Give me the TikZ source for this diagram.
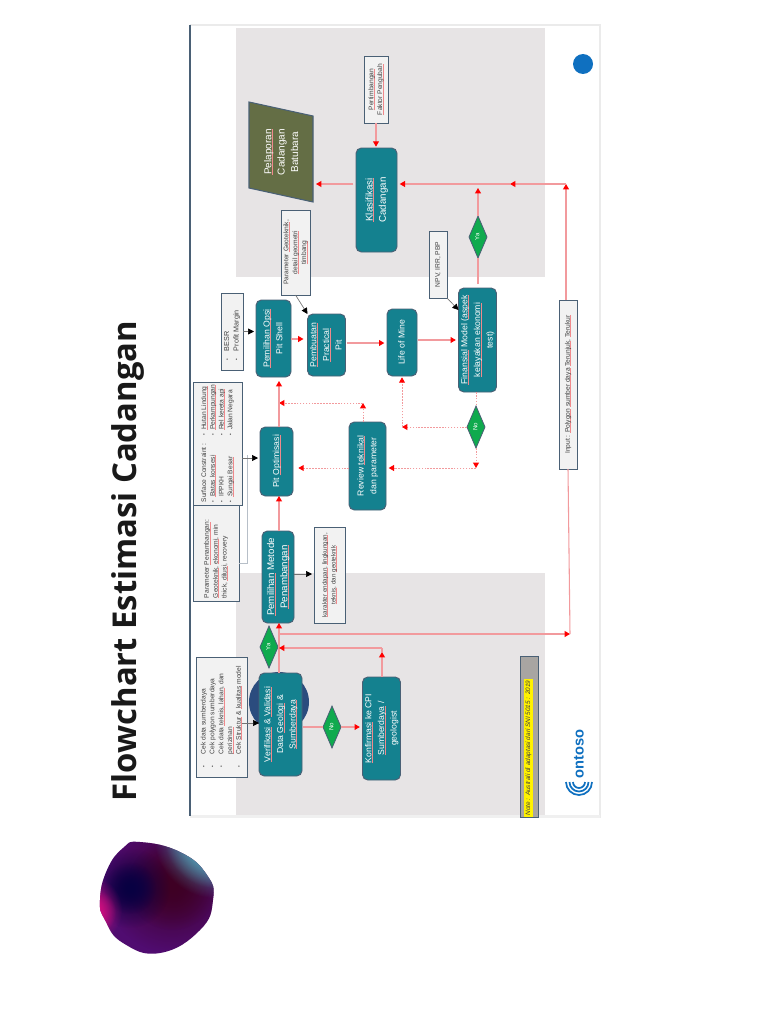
\documentclass[tikz,border=0pt]{standalone}
\usepackage{fontspec}
\usepackage{graphicx}
\setmainfont{Liberation Sans}
\newfontfamily\titlefont{Open Sans}
\usetikzlibrary{arrows.meta,shapes.geometric,calc,fadings}
\definecolor{panelc}{HTML}{E7E4E5}
\definecolor{tealc}{HTML}{14818F}
\definecolor{edgec}{HTML}{4A6075}
\definecolor{olivec}{HTML}{646E45}
\definecolor{greenc}{HTML}{0FAA4E}
\definecolor{notec}{HTML}{F2F2F2}
\definecolor{pinkline}{HTML}{F29A9D}
\definecolor{txtc}{HTML}{404040}
\definecolor{logoc}{HTML}{0F70C0}
\definecolor{squig}{HTML}{F0898C}
\definecolor{blobbase}{RGB}{80,12,112}
\definecolor{blobdark}{RGB}{62,0,36}
\definecolor{blobnavy}{RGB}{8,0,66}
\definecolor{blobpink}{RGB}{225,15,130}
\definecolor{blobcyan}{RGB}{85,205,215}
\newcommand\rt[1]{\rotatebox{90}{\begin{tabular}{@{}c@{}}#1\end{tabular}}}
\newcommand\rsq[1]{\setbox0\hbox{#1}\rlap{\textcolor{squig}{\rule[-0.7pt]{\wd0}{0.25pt}}}\box0\relax}
\newcommand\bul{\raisebox{.1ex}{\fontsize{3.6}{4}\selectfont\textbullet}}
\newcommand\bx[7]{\node[#1, minimum width={(#5-#3)*0.75pt}, minimum height={(#6-#4)*0.75pt}] (#2) at ({(#3+#5)/2},{(#4+#6)/2}) {#7};}
\tikzfading[name=softspot,inner color=transparent!0,outer color=transparent!100]
\tikzset{
 tealbox/.style={draw=edgec,fill=tealc,line width=.7pt,rounded corners=4pt,text=white,inner sep=0pt,outer sep=0pt,font=\fontsize{6.5}{9.5}\selectfont},
 tealbig/.style={tealbox,font=\fontsize{7.3}{10}\selectfont},
 notebox/.style={draw=edgec,fill=notec,line width=.7pt,inner sep=0pt,outer sep=0pt,text=txtc,font=\fontsize{5}{6.6}\selectfont},
 gate/.style={diamond,draw=edgec,fill=greenc,line width=.6pt,inner sep=0pt,outer sep=0pt,aspect=.43,minimum width=13.5pt,minimum height=31.5pt,text=white,font=\fontsize{4.6}{5}\selectfont},
 panel/.style={fill=panelc,draw=none},
 redtip/.style={-{Triangle[length=4pt,width=4.4pt,color=red,fill=red]}},
 redplain/.style={draw=pinkline,line width=.8pt},
 redarrow/.style={redplain,redtip},
 dashplain/.style={draw=pinkline,line width=.7pt,dash pattern=on 1.2pt off 1pt},
 dasharrow/.style={dashplain,redtip},
 blackarrow/.style={draw=black!55,line width=.5pt,-{Triangle[length=4.5pt,width=4.5pt,color=black,fill=black]}},
 thinline/.style={draw=edgec!40,line width=.6pt},
 spot/.style={path fading=softspot,draw=none},
}
\begin{document}
\begin{tikzpicture}[x=0.75pt,y=-0.75pt]
\useasboundingbox (0,0) rectangle (768,1024);
\fill[white] (0,0) rectangle (768,1024);
% slide frame
\draw[black!8,line width=.8pt] (190,25) -- (600,25) -- (600,818);
\fill[black!6] (190,815) rectangle (600,818);
\draw[edgec,line width=1pt] (190,25) -- (190,816);
\fill[panel] (236,28) rectangle (545,277);
\fill[panel] (236,573) rectangle (545,815);
% title
\node[rotate=90,font=\fontsize{24.6}{30}\titlefont\bfseries,text=black!90,inner sep=0pt] (title) at (128,561) {Flowchart Estimasi Cadangan};
% blob
\begin{scope}
\clip plot[smooth cycle,tension=.8] coordinates {(140,842) (180,852) (207,875) (213,900) (200,930) (160,953) (123,943) (105,920) (100,900) (107,870) (123,848)};
\fill[blobbase] (90,830) rectangle (225,960);
\fill[blobdark,spot] (172,885) circle[radius=68];
\fill[blobdark,spot] (172,885) circle[radius=45];
\fill[blobnavy,spot] (130,888) circle[radius=40];
\fill[blobnavy,spot] (130,888) circle[radius=26];
\fill[blobpink,spot] (86,910) circle[radius=36];
\fill[blobpink,spot] (92,912) circle[radius=24];
\fill[blobcyan,spot] (216,836) circle[radius=62];
\fill[blobcyan,spot] (216,836) circle[radius=52];
\end{scope}
% accents
\fill[color=logoc] (583,64) circle[radius=10];
\fill[color={rgb,255:red,43;green,76;blue,126}] (279,702) circle[radius=30];
% olive trapezium
\draw[fill=olivec,draw=edgec,line width=.8pt] (249,102) -- (313,116) -- (313,202) -- (249,188) -- cycle;
\node[text=white,inner sep=0pt,font=\fontsize{7.5}{10}\selectfont] (pel) at (282,152) {\rt{\rsq{Pelaporan}\\Cadangan\\Batubara}};
% process boxes
\bx{tealbig}{klas}{356}{148}{397}{252}{\rt{\rsq{Klasifikasi}\\Cadangan}}
\bx{tealbox}{fin}{459}{288}{496}{392}{\rt{\rsq{Finansial} Model (\rsq{aspek}\\\rsq{kelayakan ekonomi}\\test)}}
\bx{tealbox}{life}{387}{309}{417}{376}{\rt{Life of Mine}}
\bx{tealbox}{pemb}{308}{314}{345}{376}{\rt{\rsq{Pembuatan}\\\rsq{Practical}\\Pit}}
\bx{tealbox}{opsi}{256}{300}{291}{377}{\rt{\rsq{Pemilihan Opsi}\\Pit Shell}}
\bx{tealbox}{pit}{260}{427}{293}{496}{\rt{Pit \rsq{Optimisasi}}}
\bx{tealbox}{rev}{349}{422}{386}{510}{\rt{Review \rsq{teknikal}\\dan parameter}}
\bx{tealbig}{met}{262}{531}{294}{623}{\rt{\rsq{Pemilihan} Metode\\\rsq{Penambangan}}}
\bx{tealbox}{ver}{259}{673}{302}{776}{\rt{\rsq{Verifikasi} \& \rsq{Validasi}\\Data \rsq{Geologi} \&\\\rsq{Sumberdaya}}}
\bx{tealbox}{kon}{363}{677}{400}{780}{\rt{\rsq{Konfirmasi} ke CPI\\\rsq{Sumberdaya} /\\geologist}}
% note boxes
\bx{notebox}{pert}{364}{56}{388}{123}{\rt{\rsq{Pertimbangan}\\\rsq{Faktor Pengubah}}}
\bx{notebox}{geo}{281}{210}{310}{295}{\rt{Parameter \rsq{Geoteknik},\\\rsq{detail geometri}\\\rsq{timbang}}}
\bx{notebox}{npv}{429}{231}{447}{298}{\rt{NPV, IRR, PBP}}
\bx{notebox,font=\fontsize{5.4}{7}\selectfont}{besr}{221}{293}{243}{370}{\rotatebox{90}{\begin{tabular}{@{}l@{\hspace{6pt}}l@{\hspace{6pt}}}\bul&BESR\\\bul&Profit Margin\end{tabular}}}
\bx{notebox}{inp}{559}{300}{577}{469}{\rt{Input : \rsq{Polygon} \rsq{sumber daya} \rsq{Terunjuk}, \rsq{Terukur}}}
\bx{notebox,font=\fontsize{4.7}{6.6}\selectfont}{kar}{314}{527}{345}{623}{\rt{\rsq{karakter endapan}, \rsq{lingkungan},\\\rsq{teknis}, dan \rsq{geoteknik}}}
\bx{notebox}{param}{193}{505}{239}{601}{\rotatebox{90}{\begin{tabular}{@{}l@{\hspace{9pt}}}Parameter \rsq{Penambangan}:\\\rsq{Geoteknik}, \rsq{ekonomi}, min\\thick, \rsq{dilusi}, recovery\end{tabular}}}
\bx{notebox}{surf}{193}{382}{242}{505}{\rotatebox{90}{\begin{tabular}{@{}l@{\hspace{3pt}}l@{\hspace{3pt}}l@{\hspace{3pt}}l@{}}\multicolumn{2}{@{}l}{Surface Constraint :}&\bul&\rsq{Hutan Lindung}\\\bul&\rsq{Batas konsesi}&\bul&\rsq{Perkampungan}\\\bul&IPPKH&\bul&\rsq{Rel kereta api}\\\bul&\rsq{Sungai Besar}&\bul&Jalan Negara\end{tabular}}}
\bx{notebox}{cek}{196}{657}{247}{777}{\rotatebox{90}{\begin{tabular}{@{}l@{\hspace{9pt}}l@{}}\bul&Cek data sumberdaya\\\bul&Cek polygon sumberdaya\\\bul&Cek data \rsq{teknis, lahan}, dan\\&\rsq{perizinan}\\\bul&Cek \rsq{Struktur} \& \rsq{kualitas} model\end{tabular}}}
% gates
\node[gate] (yaT) at (478,237) {\rt{Ya}};
\node[gate] (noF) at (476,427) {\rt{No}};
\node[gate] (yaV) at (269,647) {\rt{Ya}};
\node[gate] (noV) at (332,727) {\rt{No}};
% note strip and logo
\bx{notebox}{strip}{520}{656}{538}{817}{}
\fill[color={rgb,255:red,168;green,165;blue,162}] (strip.south west) rectangle (strip.north east);
\draw[draw=edgec,line width=.7pt] (strip.south west) rectangle (strip.north east);
\node[fill=yellow,inner sep=0pt,minimum height=7pt,minimum width=103.5pt,rotate=90,text=txtc,font=\fontsize{4.8}{5}\selectfont\itshape] (notetxt) at (528.5,748) {Note : Australi di adaptasi dari SNI 5015 : 2019};
\node[rotate=90,text=logoc,inner sep=0pt,font=\fontsize{11}{12}\selectfont\bfseries] (logo) at (579,754) {ontoso};
\foreach \rr in {13,9.5,6} \draw[color=logoc,line width=1.3pt] ({579+\rr},782) arc[start angle=0,end angle=180,radius=\rr];
% helper coordinates
\coordinate (rowK) at (0,184);
\coordinate (jK) at (566,184);
\coordinate (midK) at (510,184);
\coordinate (pelE) at (316,184);
\coordinate (rowF) at (0,340);
\coordinate (rowO) at (0,339);
\coordinate (rowP) at (0,343);
\coordinate (cL) at (402,427);
\coordinate (cD) at (476,468);
\coordinate (cU) at (363,403);
\coordinate (cP) at (279,403);
\coordinate (rowS) at (0,458);
\coordinate (rowN) at (0,310);
\coordinate (rowM) at (0,574);
\coordinate (cX) at (279,650);
\coordinate (cI) at (570,634);
\coordinate (cK) at (382,648);
\coordinate (rowC) at (0,723);
\coordinate (tA) at (247,455);
\coordinate (tB) at (247,563);
\coordinate (tC) at (239,563);
% red connectors
\draw[redarrow,shorten >=1pt] (pert.south) -- (pert.south |- klas.north);
\draw[redarrow,shorten <=2pt] (klas.west |- rowK) -- (pelE);
\draw[redarrow] (inp.north -| jK) -- (jK);
\draw[redarrow] (jK) -- (midK);
\draw[redarrow,shorten >=2pt] (midK) -- (klas.east |- jK);
\draw[redplain,shorten <=3pt] (fin.north -| yaT) -- (yaT.south);
\draw[redarrow,shorten >=3pt] (yaT.north) -- (yaT.north |- jK);
\draw[redarrow,shorten <=1pt,shorten >=2pt] (life.east |- rowF) -- (fin.west |- rowF);
\draw[dashplain] (fin.south -| noF) -- (noF.north);
\draw[dasharrow] (noF.west) -- (cL);
\draw[dasharrow,shorten >=1pt] (cL) -- (cL |- life.south);
\draw[dasharrow] (noF.south) -- (cD);
\draw[dasharrow,shorten >=2pt] (cD) -- (rev.east |- cD);
\draw[dasharrow,shorten >=4pt] (rev.west |- cD) -- (pit.east |- cD);
\draw[dasharrow] (rev.north -| cU) -- (cU);
\draw[dasharrow] (cU) -- (cP);
\draw[redarrow,shorten >=3pt] (pit.north -| cP) -- (opsi.south -| cP);
\draw[redarrow,shorten >=3pt] (opsi.east |- rowO) -- (pemb.west |- rowO);
\draw[redarrow,shorten <=1pt,shorten >=2pt] (pemb.east |- rowP) -- (life.west |- rowP);
\draw[redarrow] (met.north -| cP) -- (pit.south -| cP);
\draw[redarrow] (ver.north -| cX) -- (met.south -| cX);
\draw[redarrow] (cX |- cI) -- (cI);
\draw[redplain] (inp.south) -- (cI);
\draw[redarrow] (cK) -- (cX |- cK);
\draw[redarrow,shorten >=3pt] (kon.north -| cK) -- (cK);
\draw[redplain] (cK) -- ([yshift=-3pt]cK);
\draw[redplain,shorten <=1pt] (ver.east |- noV) -- (noV.west);
\draw[redarrow,shorten >=2pt] (noV.east) -- (noV.east -| kon.west);
% black connectors
\draw[thinline] (tA) -- (tB) -- (tC);
\draw[blackarrow,shorten >=1.5pt] (besr.east) -- (besr.east -| opsi.west);
\draw[blackarrow] (geo.south) -- (pemb.north west);
\draw[blackarrow] (npv.south east) -- (fin.west |- rowN);
\draw[blackarrow,shorten >=1.5pt] (surf.east |- rowS) -- (pit.west |- rowS);
\draw[blackarrow,shorten >=1.5pt] (met.east |- rowM) -- (kar.west |- rowM);
\draw[blackarrow] ([xshift=-4pt]cek.east |- rowC) -- (ver.west |- rowC);
\end{tikzpicture}
\end{document}
